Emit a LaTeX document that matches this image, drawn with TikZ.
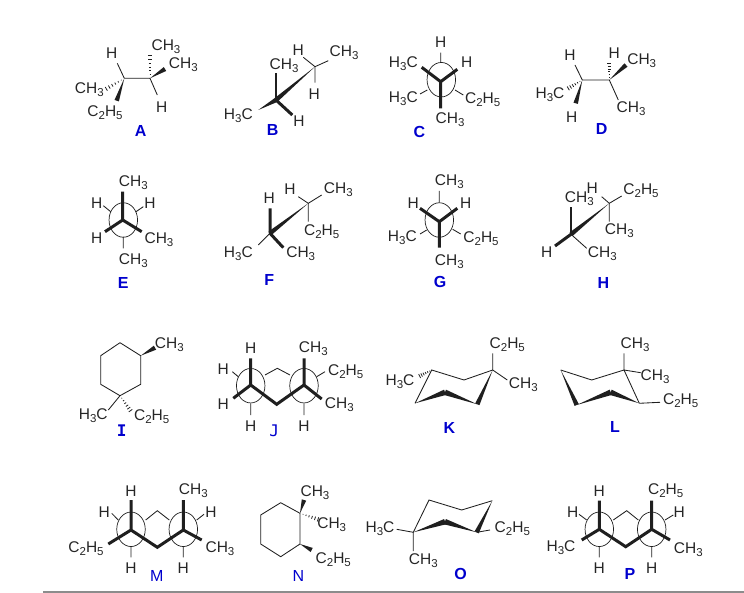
\documentclass[tikz,border=0pt]{standalone}
\usepackage{fontspec}
\setmainfont{Liberation Sans}
\newfontfamily\monofam{DejaVu Sans Mono}
\usetikzlibrary{calc,shapes.geometric}
\definecolor{bondgray}{gray}{0.12}
\definecolor{letterblue}{RGB}{0,0,205}
\newcommand\sbt[1]{\raisebox{-3pt}{\fontsize{11.5}{11.5}\selectfont #1}}
\newcommand\CHt{CH\sbt{3}}
\newcommand\HtC{H\sbt{3}C}
\newcommand\CtH{C\sbt{2}H\sbt{5}}
\newcommand\atoms[1]{\foreach \nm/\cx/\cy in {#1} \coordinate (\nm) at (\cx,\cy);}
\newcommand\wedgeb[3][2.3pt]{\fill[bondgray] (#2) -- ($(#3)!#1!90:(#2)$) -- ($(#3)!#1!-90:(#2)$) -- cycle;}
\newcommand\hashb[2]{\foreach \t in {.15,.3,.45,.6,.75,.9}
	\draw[bondgray,line width=.8pt] ($($(#1)!\t!(#2)$)!\t*2.4pt!90:(#2)$) -- ($($(#1)!\t!(#2)$)!\t*2.4pt!-90:(#2)$);}
\tikzset{
	bond/.style={draw=bondgray,line width=.85pt},
	thickb/.style={draw=bondgray,line width=3pt},
	lab/.style={inner sep=0pt,text=black!85,font=\fontsize{15.5}{15.5}\selectfont},
	letter/.style={inner sep=0pt,text=letterblue,font=\fontsize{16}{16}\selectfont\bfseries},
	newman/.style={draw=bondgray,line width=.7pt,ellipse,inner sep=0pt,minimum width=28.5pt,minimum height=34.5pt}
}
\begin{document}
\begin{tikzpicture}[x=1pt,y=-1pt]
	\useasboundingbox (0,0) rectangle (744,593);
	% A
	\atoms{a1/124.3/78.3,a2/150/78.3,a3/117.3/63.3,a4/157.3/95,a5/104.3/90,a6/116.7/100.7,a7/150/53.3,a8/165/69}
	\draw[bond] (a1)--(a2) (a1)--(a3) (a2)--(a4);
	\hashb{a1}{a5} \hashb{a2}{a7}
	\wedgeb{a1}{a6} \wedgeb{a2}{a8}
	\node[lab] (aH1) at (111.7,53.3) {H};
	\node[lab] (aH2) at (161.7,106.7) {H};
	\node[lab] (aM1) at (89.3,89.3) {\CHt};
	\node[lab] (aE1) at (105,112.7) {\CtH};
	\node[lab] (aM2) at (166,47) {\CHt};
	\node[lab] (aM3) at (183.3,65) {\CHt};
	\node[letter] (aL) at (140.7,131) {A};
	% B
	\atoms{b1/276/100,b2/315/66.7,b3/276/73.3,b4/258.3/110,b5/292.3/115,b6/303.3/57.3,b7/328.3/60.7,b8/315/82.7}
	\draw[bond,line width=1.3pt] (b1)--(b3);
	\draw[bond] (b2)--(b6) (b2)--(b7) (b2)--(b8);
	\wedgeb{b2}{b1} \wedgeb{b4}{b1}
	\draw[thickb] (b1)--(b5);
	\node[lab] (bM1) at (284,65.7) {\CHt};
	\node[lab] (bM2) at (238.3,115.7) {\HtC};
	\node[lab] (bH1) at (299,120.7) {H};
	\node[lab] (bH2) at (298.3,50) {H};
	\node[lab] (bM3) at (344,52.7) {\CHt};
	\node[lab] (bH3) at (314.3,94.3) {H};
	\node[letter] (bL) at (272.7,130) {B};
	% C
	\atoms{c1/440.7/81.7,c2/421.7/67.3,c3/457.3/69.3,c4/440.7/108.3,c5/440.7/62.7,c6/440.7/52.7,c7/427.3/90,c8/420/94,c9/455/90,c10/463.3/95}
	\node[newman] (cR) at (441.3,79.7) {};
	\draw[bond] (c5)--(c6) (c7)--(c8) (c9)--(c10);
	\draw[thickb] (c1)--(c2) (c1)--(c3) (c1)--(c4);
	\node[lab] (cH1) at (440.7,41.7) {H};
	\node[lab] (cM1) at (403.3,63.3) {\HtC};
	\node[lab] (cH2) at (466.7,62.3) {H};
	\node[lab] (cM2) at (403.3,98.3) {\HtC};
	\node[lab] (cE1) at (482.7,100) {\CtH};
	\node[lab] (cM3) at (450,120) {\CHt};
	\node[letter] (cL) at (419.3,131.7) {C};
	% D
	\atoms{d1/582.3/80,d2/609.3/80,d3/575/65,d4/566.7/89.3,d5/575.7/103.3,d6/609.3/61.7,d7/626/65,d8/618.3/100}
	\draw[bond] (d1)--(d2) (d1)--(d3) (d2)--(d8);
	\hashb{d1}{d4} \hashb{d2}{d6}
	\wedgeb{d1}{d5} \wedgeb{d2}{d7}
	\node[lab] (dH1) at (570,55) {H};
	\node[lab] (dM1) at (550,95) {\HtC};
	\node[lab] (dH2) at (571.7,116.7) {H};
	\node[lab] (dH3) at (614.3,52.7) {H};
	\node[lab] (dM2) at (641.7,60.7) {\CHt};
	\node[lab] (dM3) at (631,108.3) {\CHt};
	\node[letter] (dL) at (601.7,129.3) {D};
	% E
	\atoms{e1/122.7/220,e2/122.7/191.7,e3/105/231.7,e4/141.7/231.7,e5/110.7/211.7,e6/103.3/205.7,e7/136/211.7,e8/143.3/206.7,e9/123.3/236.7,e10/123.3/248.3}
	\node[newman] (eR) at (123.3,220) {};
	\draw[bond] (e5)--(e6) (e7)--(e8) (e9)--(e10);
	\draw[thickb] (e1)--(e2) (e1)--(e3) (e1)--(e4);
	\node[lab] (eM1) at (133.3,182.3) {\CHt};
	\node[lab] (eH1) at (96.7,202.7) {H};
	\node[lab] (eH2) at (150,202.7) {H};
	\node[lab] (eH3) at (96.7,238.3) {H};
	\node[lab] (eM2) at (159,240) {\CHt};
	\node[lab] (eM3) at (133.3,260.7) {\CHt};
	\node[letter] (eL) at (123.3,283.3) {E};
	% F
	\atoms{f1/270/233.3,f2/308.3/203.3,f3/270/208.3,f4/258.3/245,f5/283.3/247.7,f6/298.3/196.7,f7/321.7/195,f8/308.3/221.7}
	\draw[bond] (f1)--(f4) (f2)--(f6) (f2)--(f7) (f2)--(f8);
	\draw[thickb] (f1)--(f3) (f1)--(f5);
	\wedgeb{f2}{f1}
	\node[lab] (fH1) at (269.3,198.3) {H};
	\node[lab] (fM1) at (238.3,253.3) {\HtC};
	\node[lab] (fM2) at (300.7,253.3) {\CHt};
	\node[lab] (fH2) at (290,189) {H};
	\node[lab] (fM3) at (338.3,190) {\CHt};
	\node[lab] (fE1) at (321.7,231.7) {\CtH};
	\node[letter] (fL) at (269.3,280) {F};
	% G
	\atoms{g1/439.3/221.7,g2/420/208.3,g3/457.3/208.3,g4/439.3/247.7,g5/439.3/202.3,g6/439.3/191,g7/426.7/230,g8/420/234,g9/452.7/229.3,g10/460.7/234}
	\node[newman] (gR) at (439.3,220) {};
	\draw[bond] (g5)--(g6) (g7)--(g8) (g9)--(g10);
	\draw[thickb] (g1)--(g2) (g1)--(g3) (g1)--(g4);
	\node[lab] (gM1) at (449.3,181.7) {\CHt};
	\node[lab] (gH1) at (413.3,202.7) {H};
	\node[lab] (gH2) at (465.7,202.7) {H};
	\node[lab] (gM2) at (402.3,237.7) {\HtC};
	\node[lab] (gE1) at (481,239) {\CtH};
	\node[lab] (gM3) at (449.3,261.7) {\CHt};
	\node[letter] (gL) at (440,282.3) {G};
	% H
	\atoms{h1/571/234.3,h2/609.3/203.3,h3/571/206.7,h4/555/246,h5/586.7/248.3,h6/601.7/196.7,h7/621.7/196,h8/609.3/221.7}
	\draw[bond] (h1)--(h5) (h2)--(h6) (h2)--(h7) (h2)--(h8);
	\draw[bond,line width=1.6pt] (h1)--(h3);
	\draw[thickb] (h1)--(h4);
	\wedgeb{h2}{h1}
	\node[lab] (hM1) at (579.3,198.3) {\CHt};
	\node[lab] (hH1) at (546.7,251.7) {H};
	\node[lab] (hM2) at (602.3,254) {\CHt};
	\node[lab] (hH2) at (592.3,187.7) {H};
	\node[lab] (hE1) at (641,191) {\CtH};
	\node[lab] (hM3) at (619.3,230.7) {\CHt};
	\node[letter] (hL) at (603.3,283.3) {H};
	% I
	\atoms{i1/120/342.7,i2/140.7/355.7,i3/140.7/384.3,i4/120/395.7,i5/100.7/384.3,i6/100.7/355.7,i7/155/347.7,i8/108.3/410,i9/131.7/412.3}
	\draw[bond] (i1)--(i2)--(i3)--(i4)--(i5)--(i6)--(i1) (i4)--(i8);
	\wedgeb{i2}{i7} \hashb{i4}{i9}
	\node[lab] (iM1) at (169.3,345) {\CHt};
	\node[lab] (iM2) at (93.3,415.7) {\HtC};
	\node[lab] (iE1) at (151.7,416.7) {\CtH};
	\node[letter,font=\fontsize{16}{16}\selectfont\monofam\bfseries] (iL) at (121.7,430.7) {I};
	% J
	\atoms{j1/250.7/385,j2/304/385,j3/276.7/404.3,j4/277.3/368.3,j5/265/375,j6/290/375,j7/250.7/358.3,j8/233.3/398.3,j9/304/358.3,j10/321.7/399,j11/238.3/376.7,j12/232.3/371.7,j13/316.7/376.7,j14/325/371.7,j15/250.7/403.3,j16/250.7/415,j17/304/403.3,j18/304/415}
	\node[newman] (jR1) at (250.7,385.7) {};
	\node[newman] (jR2) at (304,385.7) {};
	\draw[bond] (j5)--(j4)--(j6) (j11)--(j12) (j13)--(j14) (j15)--(j16) (j17)--(j18);
	\draw[thickb] (j7)--(j1)--(j3)--(j2)--(j9) (j8)--(j1) (j2)--(j10);
	\node[lab] (jH1) at (250.7,348.3) {H};
	\node[lab] (jM1) at (313.3,348.3) {\CHt};
	\node[lab] (jH2) at (223.3,369.3) {H};
	\node[lab] (jH3) at (223.3,404.3) {H};
	\node[lab] (jE1) at (345.7,371.7) {\CtH};
	\node[lab] (jM2) at (339.3,404.3) {\CHt};
	\node[lab] (jH4) at (250.7,426) {H};
	\node[lab] (jH5) at (304,426) {H};
	\node[letter,font=\fontsize{16}{16}\selectfont\monofam] (jL) at (274.3,430.7) {J};
	% K
	\atoms{k1/415/403.3,k2/445/392.3,k3/477.3/404.3,k4/492.7/370,k5/464/380,k6/431.7/370,k7/492.7/353.3,k8/507.3/380,k9/418.3/376.7}
	\draw[bond] (k4)--(k5)--(k6)--(k1) (k4)--(k7) (k4)--(k8);
	\wedgeb[2.8pt]{k1}{k2} \wedgeb[2.8pt]{k3}{k2} \wedgeb{k4}{k3}
	\hashb{k6}{k9}
	\node[lab] (kE1) at (507.3,345) {\CtH};
	\node[lab] (kM1) at (523.3,385) {\CHt};
	\node[lab] (kM2) at (400,381.7) {\HtC};
	\node[letter] (kL) at (449.3,428.3) {K};
	% L
	\atoms{l1/560.7/370,l2/576.7/405,l3/610.7/392.3,l4/639.3/403.3,l5/624/370,l6/591.7/380,l7/624/353.3,l8/640.7/372.7,l9/660/402.3}
	\draw[bond] (l4)--(l5)--(l6)--(l1) (l5)--(l7) (l5)--(l8) (l4)--(l9);
	\wedgeb{l1}{l2} \wedgeb[2.8pt]{l2}{l3} \wedgeb[2.8pt]{l4}{l3}
	\node[lab] (lM1) at (635,344.3) {\CHt};
	\node[lab] (lM2) at (655,376.7) {\CHt};
	\node[lab] (lE1) at (680.7,401) {\CtH};
	\node[letter] (lL) at (615,426.7) {L};
	% M
	\atoms{m1/131/530,m2/183.3/530,m3/157.3/547.3,m4/157.3/510.7,m5/145.7/520,m6/169.3/520,m7/131/500,m8/108.3/544,m9/183.3/500,m10/201.7/540,m11/118.3/520,m12/111.7/513.3,m13/196.7/520,m14/204/514.3,m15/131/546,m16/131/557.3,m17/183.3/546,m18/183.3/557.3}
	\node[newman] (mR1) at (131,529.3) {};
	\node[newman] (mR2) at (183.3,529.3) {};
	\draw[bond] (m5)--(m4)--(m6) (m11)--(m12) (m13)--(m14) (m15)--(m16) (m17)--(m18);
	\draw[thickb] (m7)--(m1)--(m3)--(m2)--(m9) (m8)--(m1) (m2)--(m10);
	\node[lab] (mH1) at (131,490.7) {H};
	\node[lab] (mM1) at (193.3,490.7) {\CHt};
	\node[lab] (mH2) at (104.3,511.7) {H};
	\node[lab] (mH3) at (211,511.7) {H};
	\node[lab] (mE1) at (86,548.3) {\CtH};
	\node[lab] (mM2) at (220,548.3) {\CHt};
	\node[lab] (mH4) at (131,568.3) {H};
	\node[lab] (mH5) at (183.3,568.3) {H};
	\node[letter,font=\fontsize{16}{16}\selectfont] (mL) at (156.7,575.7) {M};
	% N
	\atoms{n1/280.7/502.7,n2/300/513.3,n3/300/544,n4/280.7/556.7,n5/260.7/544,n6/260.7/515,n7/304/500,n8/320/520,n9/311.7/550}
	\draw[bond] (n1)--(n2)--(n3)--(n4)--(n5)--(n6)--(n1);
	\wedgeb{n2}{n7} \hashb{n2}{n8} \wedgeb{n3}{n9}
	\node[lab] (nM1) at (315,492.7) {\CHt};
	\node[lab] (nM2) at (331.7,525) {\CHt};
	\node[lab] (nE1) at (333.3,560) {\CtH};
	\node[letter,font=\fontsize{16}{16}\selectfont] (nL) at (298.3,575.7) {N};
	% O
	\atoms{o1/429/500,o2/461.7/510,o3/492.3/500.7,o4/413.3/532.3,o5/445/521.7,o6/476.7/532.3,o7/396.7/529.3,o8/413.3/551,o9/490/530}
	\draw[bond] (o4)--(o1)--(o2)--(o3) (o4)--(o7) (o4)--(o8) (o6)--(o9);
	\wedgeb[2.8pt]{o4}{o5} \wedgeb[2.8pt]{o6}{o5} \wedgeb{o3}{o6}
	\node[lab] (oM1) at (380,528.3) {\HtC};
	\node[lab] (oM2) at (423.3,560.7) {\CHt};
	\node[lab] (oE1) at (512.3,528.3) {\CtH};
	\node[letter] (oL) at (460.7,574) {O};
	% P
	\atoms{p1/599.3/529.3,p2/651.7/529.3,p3/625.7/546.7,p4/626.7/510.7,p5/613.3/520,p6/638.3/520,p7/599.3/500.7,p8/581.7/540,p9/651.7/500.7,p10/670/540,p11/586.7/520,p12/579/514.3,p13/665/520,p14/673.3/515,p15/599.3/546,p16/599.3/557.3,p17/651.7/546,p18/651.7/557.3}
	\node[newman] (pR1) at (599.3,529.3) {};
	\node[newman] (pR2) at (651.7,529.3) {};
	\draw[bond] (p5)--(p4)--(p6) (p11)--(p12) (p13)--(p14) (p15)--(p16) (p17)--(p18);
	\draw[thickb] (p7)--(p1)--(p3)--(p2)--(p9) (p8)--(p1) (p2)--(p10);
	\node[lab] (pH1) at (599.3,490.7) {H};
	\node[lab] (pE1) at (665.7,490.7) {\CtH};
	\node[lab] (pH2) at (572.7,511.7) {H};
	\node[lab] (pH3) at (679.3,511.7) {H};
	\node[lab] (pM1) at (561,547.3) {\HtC};
	\node[lab] (pM2) at (688.3,549.3) {\CHt};
	\node[lab] (pH4) at (599.3,567.7) {H};
	\node[lab] (pH5) at (651.7,567.7) {H};
	\node[letter] (pL) at (630,574) {P};
	% rule at the foot
	\coordinate (rl) at (43,591.8);
	\coordinate (rr) at (744,591.8);
	\draw[black!45,line width=1.6pt] (rl)--(rr);
\end{tikzpicture}
\end{document}
